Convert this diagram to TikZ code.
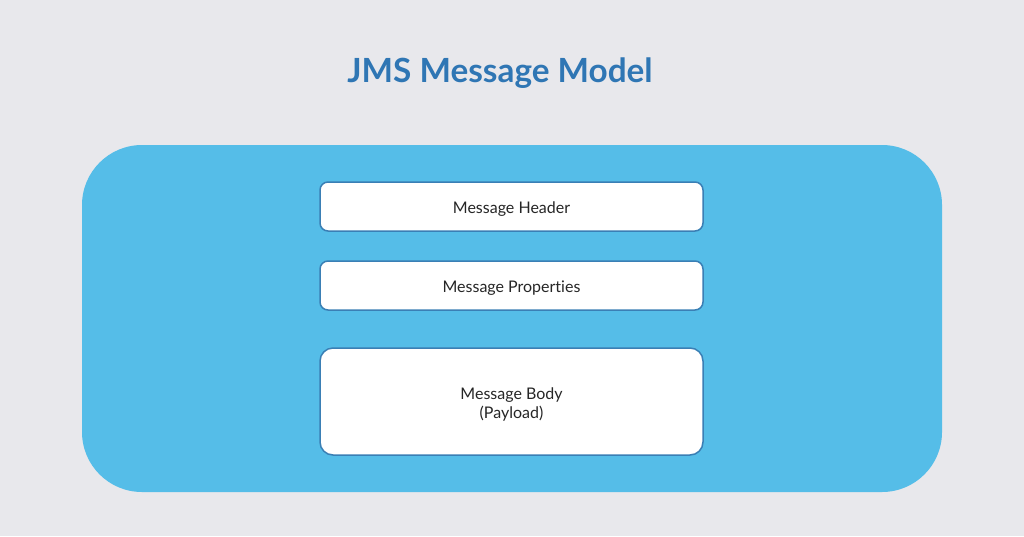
\documentclass[tikz,border=0pt]{standalone}
\usepackage{fontspec}
\setmainfont[Ligatures={NoCommon}]{Lato}
\definecolor{bgc}{HTML}{E8E8EC}
\definecolor{panelc}{HTML}{55BDE8}
\definecolor{titlec}{HTML}{2F76B4}
\definecolor{edgec}{HTML}{3A7FB5}
\definecolor{textc}{HTML}{262626}
\tikzset{
  msgbox/.style={draw=edgec, line width=1.5pt, fill=white, rounded corners=8pt, inner sep=0pt},
  msgtext/.style={text=textc, font=\fontsize{16}{19}\selectfont, align=center, inner sep=0pt, yshift=-2.5pt},
}
\begin{document}
\begin{tikzpicture}[x=1pt,y=-1pt]
\fill[bgc] (0,0) rectangle (1024,536);
\useasboundingbox (0,0) rectangle (1024,536);
\node[text=titlec, font=\fontsize{33.3}{38}\bfseries\selectfont] (title) at (500,73) {JMS Message Model};
\node[fill=panelc, rounded corners=60pt, minimum width=860pt, minimum height=347pt, inner sep=0pt] (panel) at (512,318.5) {};
\node[msgbox, minimum width=383pt, minimum height=49pt] (header) at (511.5,206.5) {};
\node[msgtext] (headertext) at (header.center) {Message Header};
\node[msgbox, minimum width=383pt, minimum height=49pt] (props) at (511.5,285.5) {};
\node[msgtext] (propstext) at (props.center) {Message Properties};
\node[msgbox, rounded corners=13pt, minimum width=383pt, minimum height=107pt] (body) at (511.5,401.5) {};
\node[msgtext] (bodytext) at (body.center) {Message Body\\(Payload)};
\end{tikzpicture}
\end{document}
